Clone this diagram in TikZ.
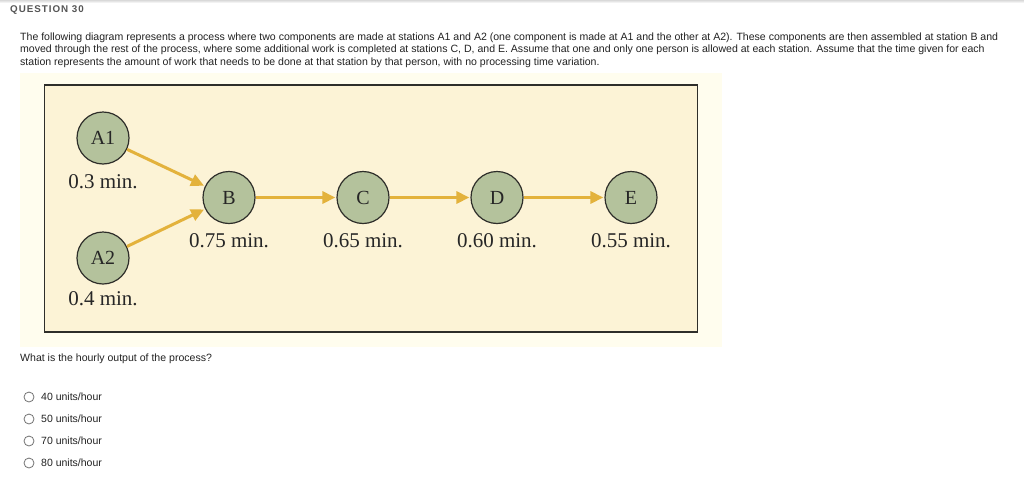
\documentclass[tikz,border=0pt]{standalone}
\usepackage{fontspec}
\setmainfont{Liberation Serif}
\newfontfamily\arialf{Liberation Sans}
\newfontfamily\arialsp[LetterSpace=10]{Liberation Sans}
\usetikzlibrary{arrows.meta}
\definecolor{outercream}{HTML}{FFFDEE}
\definecolor{innercream}{HTML}{FCF3D6}
\definecolor{stationfill}{HTML}{B4C29C}
\definecolor{stationline}{HTML}{2E2E2A}
\definecolor{flowgold}{HTML}{E3B23C}
\definecolor{bodytext}{HTML}{222222}
\definecolor{headtext}{HTML}{555555}
\tikzset{
  station/.style={circle, draw=stationline, line width=1.2pt, fill=stationfill,
    minimum size=52pt, inner sep=0pt, font=\fontsize{20}{22}\selectfont, text=black!85},
  timelabel/.style={font=\fontsize{21}{23}\selectfont, text=black!85, inner sep=0pt},
  flow/.style={draw=flowgold, line width=3pt, -{Triangle[length=13pt,width=12pt]}, shorten >=1pt},
  para/.style={anchor=base west, inner sep=0pt, font=\arialf\fontsize{10.55}{12}\selectfont, text=bodytext},
  opt/.style={anchor=base west, inner sep=0pt, font=\arialf\fontsize{10.5}{12}\selectfont, text=bodytext},
  radio/.style={circle, draw=black!55, line width=0.8pt, fill=white, minimum size=10pt, inner sep=0pt}
}
\begin{document}
\begin{tikzpicture}[x=1pt, y=-1pt]
\useasboundingbox (0,0) rectangle (1024,482);
\fill[white] (0,0) rectangle (1024,482);
\shade[top color=black!15, bottom color=white] (0,0) rectangle (1024,3);
% header
\node[anchor=base west, inner sep=0pt, font=\arialsp\bfseries\fontsize{9.8}{12}\selectfont, text=headtext] (head) at (10,12) {QUESTION 30};
% paragraph
\node[para] (p1) at (20,40) {The following diagram represents a process where two components are made at stations A1 and A2 (one component is made at A1 and the other at A2). These components are then assembled at station B and};
\node[para] (p2) at (20,52.5) {moved through the rest of the process, where some additional work is completed at stations C, D, and E. Assume that one and only one person is allowed at each station. Assume that the time given for each};
\node[para] (p3) at (20,65) {station represents the amount of work that needs to be done at that station by that person, with no processing time variation.};
% diagram backgrounds
\fill[outercream] (20,73) rectangle (722,347);
\draw[draw=stationline, line width=1.2pt, fill=innercream] (44.5,85) rectangle (697.5,332);
% stations
\node[station] (A1) at (103,138) {A1};
\node[station] (A2) at (103,258) {A2};
\node[station] (B) at (229,197.5) {B};
\node[station] (C) at (363,197.5) {C};
\node[station] (D) at (497,197.5) {D};
\node[station] (E) at (631,197.5) {E};
% labels
\node[timelabel] (tA1) at (103,182) {0.3 min.};
\node[timelabel] (tA2) at (103,299) {0.4 min.};
\node[timelabel] (tB) at (229,241) {0.75 min.};
\node[timelabel] (tC) at (363,241) {0.65 min.};
\node[timelabel] (tD) at (497,241) {0.60 min.};
\node[timelabel] (tE) at (631,241) {0.55 min.};
% flows
\draw[flow] (A1) -- (B);
\draw[flow] (A2) -- (B);
\draw[flow] (B) -- (C);
\draw[flow] (C) -- (D);
\draw[flow] (D) -- (E);
% question
\node[para] (q) at (20,361) {What is the hourly output of the process?};
\node[radio] (r1) at (29,397) {};
\node[radio] (r2) at (29,419) {};
\node[radio] (r3) at (29,441) {};
\node[radio] (r4) at (29,463) {};
\node[opt] (o1) at (41,400.5) {40 units/hour};
\node[opt] (o2) at (41,422.5) {50 units/hour};
\node[opt] (o3) at (41,444.5) {70 units/hour};
\node[opt] (o4) at (41,466.5) {80 units/hour};
\end{tikzpicture}
\end{document}
